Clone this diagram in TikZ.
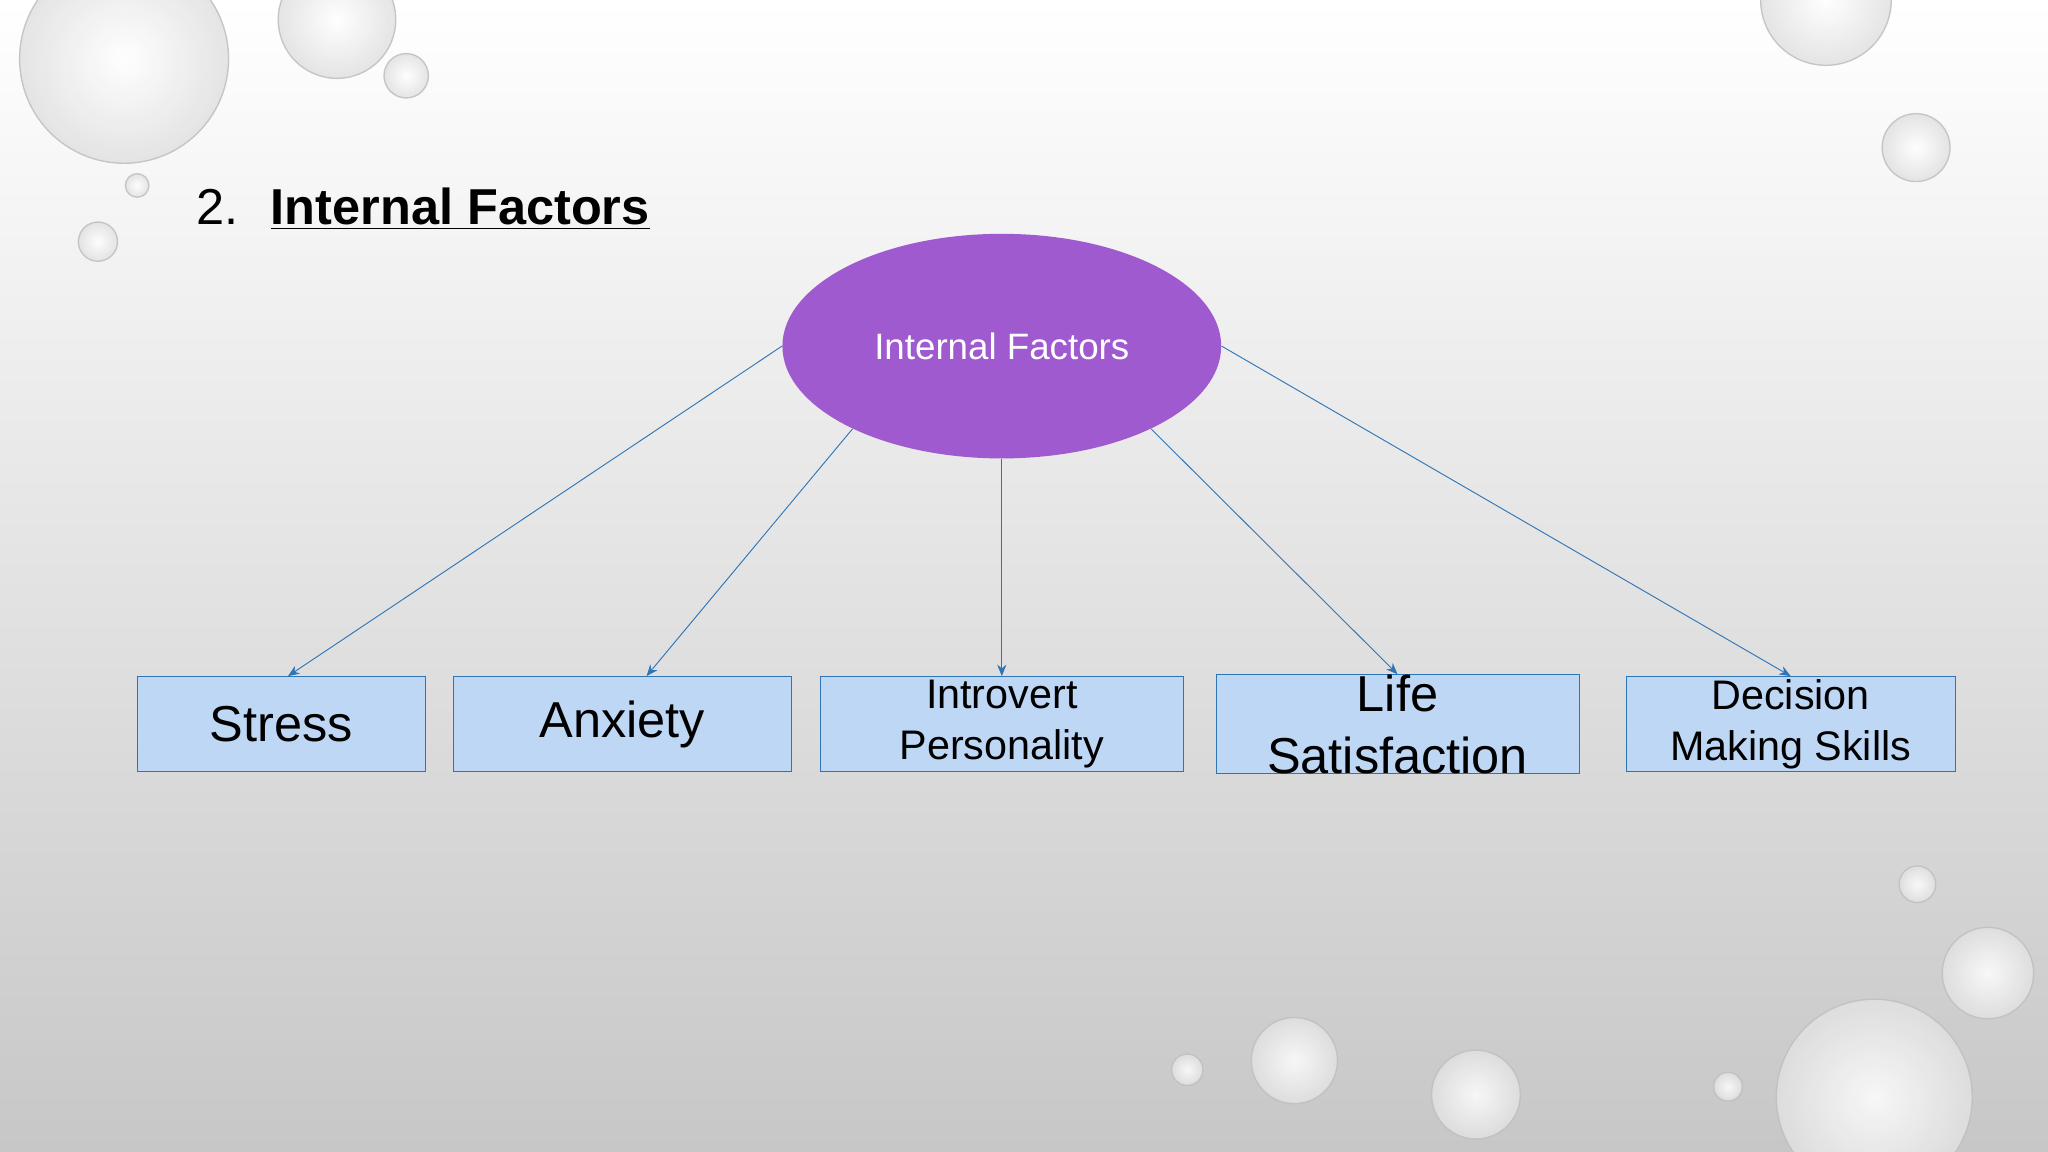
\documentclass[tikz,border=0pt]{standalone}
\usepackage{fontspec}
\setmainfont{Liberation Sans}
\usetikzlibrary{shapes.geometric,arrows.meta}
\definecolor{boxfill}{HTML}{BDD7F5}
\definecolor{boxline}{HTML}{2E75B6}
\definecolor{ellfill}{HTML}{A05ACF}
\tikzset{
	factor/.style={draw=boxline, fill=boxfill, minimum height=1.46cm, align=center, inner sep=0pt, font=\fontsize{22}{24}\selectfont},
	link/.style={draw=boxline, thin, -{Stealth[length=5pt,width=4pt]}},
	drop/.style={inner color=white, outer color=black!12, draw=black!25, line width=0.6pt, opacity=0.85}
}
\begin{document}
\begin{tikzpicture}[x=0.02cm, y=-0.02cm]
	% background
	\shade[top color=white, bottom color=black!22] (0,0) rectangle (1568,882);
	\useasboundingbox (0,0) rectangle (1568,882);
	% water drops
	\shade[drop] (95,45) circle (80);
	\shade[drop] (258,15) circle (45);
	\shade[drop] (311,58) circle (17);
	\shade[drop] (105,142) circle (9);
	\shade[drop] (75,185) circle (15);
	\shade[drop] (1398,0) circle (50);
	\shade[drop] (1467,113) circle (26);
	\shade[drop] (1468,677) circle (14);
	\shade[drop] (1522,745) circle (35);
	\shade[drop] (1435,840) circle (75);
	\shade[drop] (991,812) circle (33);
	\shade[drop] (1130,838) circle (34);
	\shade[drop] (909,819) circle (12);
	\shade[drop] (1323,832) circle (11);
	% title
	\node[anchor=west, font=\fontsize{22}{24}\selectfont] (title) at (144,160) {2.\hspace{0.5cm}\textbf{\underline{Internal Factors}}};
	% root
	\node[ellipse, fill=ellfill, minimum width=6.72cm, minimum height=3.44cm, text=white, font=\fontsize{16}{18}\selectfont] (root) at (767,265) {Internal Factors};
	% factors
	\node[factor, minimum width=4.42cm] (stress) at (215.5,554.5) {Stress};
	\node[factor, minimum width=5.18cm] (anxiety) at (476.5,554.5) {Anxiety};
	\node[factor, minimum width=5.56cm, font=\fontsize{18}{22}\selectfont] (introvert) at (767,554.5) {Introvert\\Personality};
	\node[factor, minimum width=5.56cm, font=\fontsize{22}{27}\selectfont] (life) at (1070,554.5) {Life\\Satisfaction};
	\node[factor, minimum width=5.04cm, font=\fontsize{18}{22}\selectfont] (decision) at (1371,554.5) {Decision\\Making Skills};
	% links
	\draw[link] (root.180) -- ([xshift=0.1cm]stress.north);
	\draw[link] (root.209) -- ([xshift=0.37cm]anxiety.north);
	\draw[link] (root.south) -- (introvert.north);
	\draw[link] (root.331) -- (life.north);
	\draw[link] (root.0) -- (decision.north);
\end{tikzpicture}
\end{document}
